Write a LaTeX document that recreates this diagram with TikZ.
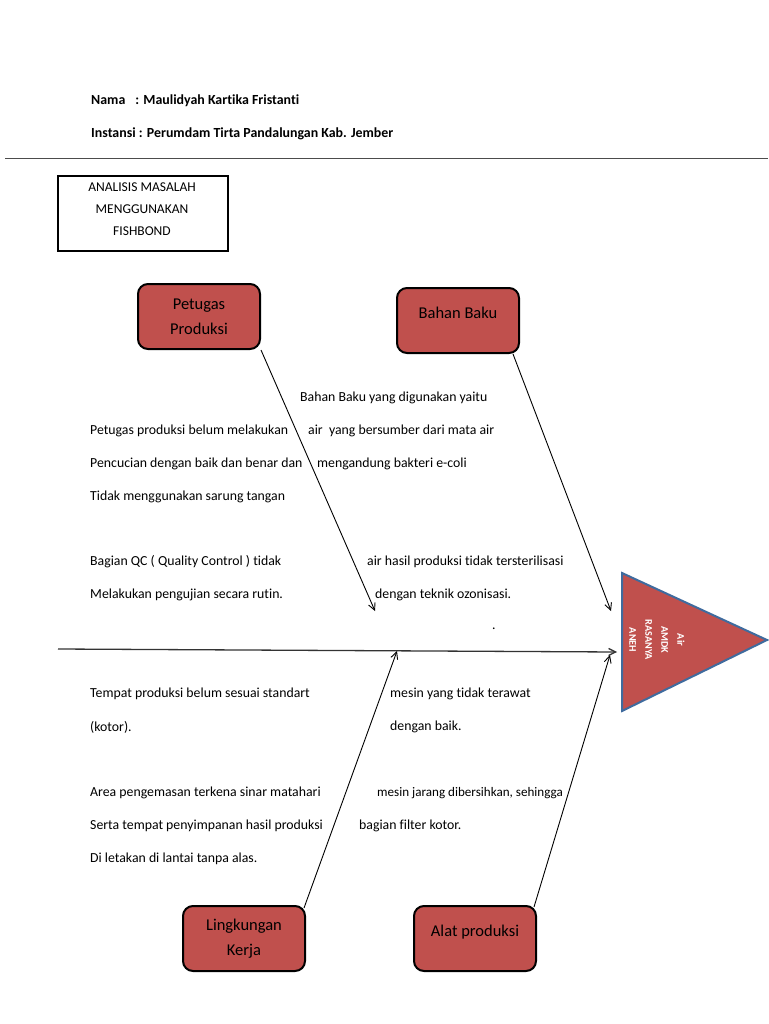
\documentclass[tikz,border=0pt]{standalone}
\usepackage{fontspec}
\setmainfont[Ligatures=NoCommon]{Carlito}
\usetikzlibrary{arrows.meta}
\definecolor{boxred}{HTML}{C0504D}
\definecolor{triblue}{HTML}{3F6B9E}
\begin{document}
\begin{tikzpicture}[x=1pt,y=-1pt,
  cat/.style={draw=black,line width=2pt,fill=boxred,rounded corners=10pt,minimum width=122pt,minimum height=65pt,inner sep=0pt,font=\fontsize{16.5}{25}\selectfont,align=center,anchor=north west},
  txt/.style={anchor=west,inner sep=0pt,font=\fontsize{13.8}{15}\selectfont},
  hdr/.style={anchor=west,inner sep=0pt,font=\bfseries\fontsize{13.9}{15}\selectfont},
  bone/.style={line width=0.9pt,-{Straight Barb[length=7pt,width=7pt]}}]
\useasboundingbox (0,0) rectangle (768,1024);
\fill[white] (0,0) rectangle (768,1024);
% header
\node[hdr] (nama) at (91,101) {Nama\hspace{10pt}: Maulidyah Kartika Fristanti};
\node[hdr] (inst) at (91,134) {Instansi : Perumdam Tirta Pandalungan Kab. Jember};
\draw[line width=1pt,black!70] (5,159) -- (768,159);
% title box
\node[draw=black,line width=2pt,minimum width=170pt,minimum height=75pt,anchor=north west,inner sep=0pt] (title) at (57,175) {};
\node[align=center,inner sep=0pt,font=\fontsize{13.5}{22}\selectfont] (titletext) at (142,209.5) {ANALISIS MASALAH\\MENGGUNAKAN\\FISHBOND};
% category boxes
\node[cat] (pp) at (137,283) {Petugas\\Produksi};
\node[cat] (bb) at (396,287) {\raisebox{2pt}[0pt][0pt]{Bahan Baku}};
\node[cat] (lk) at (182,905) {Lingkungan\\Kerja};
\node[cat] (ap) at (413,905) {\raisebox{2pt}[0pt][0pt]{Alat produksi}};
% head triangle
\draw[line width=2pt,triblue,fill=boxred] (622,573) -- (767,640) -- (622,711) -- cycle;
\node[rotate=-90,text=white,align=center,font=\bfseries\fontsize{10.2}{16}\selectfont,inner sep=0pt] (head) at (657,640) {Air\\AMDK\\RASANYA\\ANEH};
\coordinate (tail) at (58,649);
\coordinate (spineend) at (617,652);
\coordinate (ppend) at (375,611);
\coordinate (bbend) at (611,611);
\coordinate (lkend) at (397,651);
\coordinate (apend) at (610,655);
% connectors
\draw[bone,line width=1.3pt,black!80] (tail) -- (spineend);
\draw[bone] (pp.south east) -- (ppend);
\draw[bone] ([xshift=-7pt]bb.south east) -- (bbend);
\draw[bone] ([xshift=-2pt,yshift=-3pt]lk.north east) -- (lkend);
\draw[bone] ([xshift=-3pt,yshift=-2pt]ap.north east) -- (apend);
% texts upper
\node[txt] (t1) at (300,398) {Bahan Baku yang digunakan yaitu};
\node[txt] (t2) at (90,431) {Petugas produksi belum melakukan};
\node[txt] (t3) at (308,431) {air\ \ yang bersumber dari mata air};
\node[txt] (t4) at (90,464) {Pencucian dengan baik dan benar dan};
\node[txt] (t5) at (317,464) {mengandung bakteri e-coli};
\node[txt] (t6) at (90,497) {Tidak menggunakan sarung tangan};
\node[txt] (t7) at (90,562) {Bagian QC ( Quality Control ) tidak};
\node[txt] (t8) at (367,562) {air hasil produksi tidak tersterilisasi};
\node[txt] (t9) at (90,595) {Melakukan pengujian secara rutin.};
\node[txt] (t10) at (375,595) {dengan teknik ozonisasi.};
\node[txt] (t11) at (492,629) {.};
% texts lower
\node[txt] (b1) at (90,694) {Tempat produksi belum sesuai standart};
\node[txt] (b2) at (390,694) {mesin yang tidak terawat};
\node[txt] (b3) at (90,727) {(kotor).};
\node[txt] (b4) at (390,727) {dengan baik.};
\node[txt] (b5) at (90,793) {Area pengemasan terkena sinar matahari};
\node[txt,font=\fontsize{13.1}{15}\selectfont] (b6) at (377,793) {mesin jarang dibersihkan, sehingga};
\node[txt] (b7) at (90,826) {Serta tempat penyimpanan hasil produksi};
\node[txt] (b8) at (359,826) {bagian filter kotor.};
\node[txt] (b9) at (90,859) {Di letakan di lantai tanpa alas.};
\end{tikzpicture}
\end{document}
